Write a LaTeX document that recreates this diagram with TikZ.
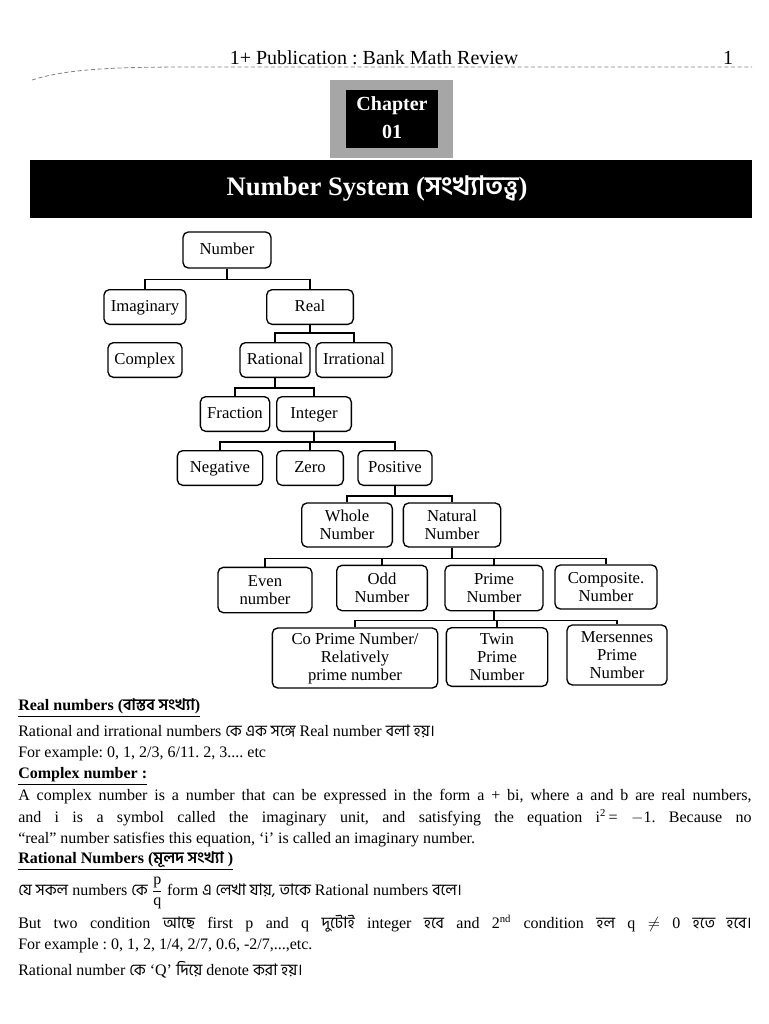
\documentclass[tikz,border=0pt]{standalone}
\usepackage{amsmath}
\usepackage{fontspec}
\setmainfont{Liberation Serif}
\newfontfamily\bangla[Script=Bengali]{Hind Siliguri}
\usetikzlibrary{positioning}

\tikzset{
  nbox/.style={draw, rounded corners=4pt, line width=1pt, align=center, inner sep=2pt, font=\fontsize{12.5}{13.5}\selectfont},
  sbox/.style={nbox, text height=9pt, text depth=2.5pt},
  tline/.style={line width=0.9pt},
  txt/.style={anchor=west, inner sep=0pt, font=\fontsize{12}{13}\selectfont},
}
\newcommand{\fullline}[1]{\hbox to 550pt{#1}}

\begin{document}
\frenchspacing
\begin{tikzpicture}[x=0.75pt, y=-0.75pt]
\useasboundingbox (0,0) rectangle (768,1024);
\fill [white] (0,0) rectangle (768,1024);

% page head
\node (head) at (374,58) {\fontsize{15}{16}\selectfont 1+ Publication : Bank Math Review};
\node (page) at (728,58) {\fontsize{15}{16}\selectfont 1};
\draw [gray, densely dashed, line width=0.6pt] (32,80) .. controls (70,68) and (120,67) .. (200,67) -- (752,67);

% chapter box and title bar
\fill [black!35] (330,80) rectangle (453,158);
\fill [black] (346,90) rectangle (438,148);
\node [white, font=\bfseries\fontsize{15}{21}\selectfont, align=center] (chap) at (392,118) {Chapter\\01};
\fill [black] (30,160) rectangle (752,218);
\node [white, font=\bfseries\fontsize{20}{24}\selectfont] (title) at (377,188) {Number System ({\bangla সংখ্যাতত্ত্ব})};

% tree
\node [sbox, minimum width=66pt, minimum height=27pt] (number) at (227,250) {Number};
\node [sbox, minimum width=61.5pt, minimum height=26pt] (imag) at (145,307) {Imaginary};
\node [sbox, minimum width=65pt, minimum height=26pt] (real) at (310,307) {Real};
\node [sbox, minimum width=55.5pt, minimum height=26pt] (complex) at (145,360) {Complex};
\node [sbox, minimum width=52.5pt, minimum height=26pt] (rational) at (275,360) {Rational};
\node [sbox, minimum width=57pt, minimum height=26pt] (irrational) at (354,360) {Irrational};
\node [sbox, minimum width=52pt, minimum height=26pt] (fraction) at (235,414) {Fraction};
\node [sbox, minimum width=56pt, minimum height=26pt] (integer) at (314,414) {Integer};
\node [sbox, minimum width=64pt, minimum height=26pt] (negative) at (220,468) {Negative};
\node [sbox, minimum width=50pt, minimum height=26pt] (zero) at (310,468) {Zero};
\node [sbox, minimum width=55.5pt, minimum height=26pt] (positive) at (395,468) {Positive};
\node [nbox, minimum width=68pt, minimum height=33pt] (whole) at (347,525) {Whole\\Number};
\node [nbox, minimum width=73pt, minimum height=33pt] (natural) at (452,525) {Natural\\Number};
\node [nbox, minimum width=70.5pt, minimum height=34pt] (even) at (265,590) {Even\\number};
\node [nbox, minimum width=68pt, minimum height=34pt] (odd) at (382,588) {Odd\\Number};
\node [nbox, minimum width=73.5pt, minimum height=34pt] (prime) at (494,588) {Prime\\Number};
\node [nbox, minimum width=76.5pt, minimum height=33pt] (composite) at (606,587) {Composite.\\Number};
\node [nbox, minimum width=124pt, minimum height=45pt] (coprime) at (355,658) {Co Prime Number/\\Relatively\\prime number};
\node [nbox, minimum width=76pt, minimum height=44pt] (twin) at (497,657) {Twin\\Prime\\Number};
\node [nbox, minimum width=75pt, minimum height=45pt] (mersenne) at (617,655) {Mersennes\\Prime\\Number};

\draw [tline] (number.south) -- ++(0,11) -| (imag.north);
\draw [tline] (number.south) -- ++(0,11) -| (real.north);
\draw [tline] (real.south) -- ++(0,8) -| (rational.north);
\draw [tline] (real.south) -- ++(0,8) -| (irrational.north);
\draw [tline] (rational.south) -- ++(0,10) -| (fraction.north);
\draw [tline] (rational.south) -- ++(0,10) -| (integer.north);
\draw [tline] (integer.south) -- ++(0,10) -| (negative.north);
\draw [tline] (integer.south) -- ++(0,10) -| (zero.north);
\draw [tline] (integer.south) -- ++(0,10) -| (positive.north);
\draw [tline] (positive.south) -- ++(0,10) -| (whole.north);
\draw [tline] (positive.south) -- ++(0,10) -| (natural.north);
\draw [tline] (natural.south) -- ++(0,11) -| (even.north);
\draw [tline] (natural.south) -- ++(0,11) -| (odd.north);
\draw [tline] (natural.south) -- ++(0,11) -| (prime.north);
\draw [tline] (natural.south) -- ++(0,11) -| (composite.north);
\draw [tline] (prime.south) -- ++(0,9) -| (coprime.north);
\draw [tline] (prime.south) -- ++(0,9) -| (twin.north);
\draw [tline] (prime.south) -- ++(0,9) -| (mersenne.north);

% notes below the tree
\node [txt] (realhd) at (18,708) {\underline{\textbf{Real numbers ({\bangla বাস্তব সংখ্যা})}}};
\node [txt] (realtx) at (18,731) {Rational and irrational numbers {\bangla কে এক সঙ্গে} Real number {\bangla বলা হয়।}};
\node [txt] (realex) at (18,754) {For example: 0, 1, 2/3, 6/11. 2, 3.... etc};
\node [txt] (cplxhd) at (18,776) {\underline{\textbf{Complex number :}}};
\node [txt] (cplx1) at (18,797) {\fullline{A complex number is a number that can be expressed in the form a + bi, where a and b are real numbers,}};
\node [txt] (cplx2) at (18,818) {\fullline{and i is a symbol called the imaginary unit, and satisfying the equation i\textsuperscript{2}\,= $-$1. Because no}};
\node [txt] (cplx3) at (18,840) {“real” number satisfies this equation, ‘i’ is called an imaginary number.};
\node [txt] (rathd) at (18,861) {\underline{\textbf{Rational Numbers ({\bangla মূলদ সংখ্যা} )}}};
\node [txt] (rat1) at (18,893) {{\bangla যে সকল} numbers {\bangla কে} $\dfrac{\mathrm{p}}{\mathrm{q}}$ form {\bangla এ লেখা যায়,} {\bangla তাকে} Rational numbers {\bangla বলে।}};
\node [txt] (rat2) at (18,924) {\fullline{But two condition {\bangla আছে} first p and q {\bangla দুটোই} integer {\bangla হবে} and 2\textsuperscript{nd} condition {\bangla হল} q $\neq$ 0 {\bangla হতে হবে।}}};
\node [txt] (rat3) at (18,946) {For example : 0, 1, 2, 1/4, 2/7, 0.6, -2/7,...,etc.};
\node [txt] (rat4) at (18,970) {Rational number {\bangla কে} ‘Q’ {\bangla দিয়ে} denote {\bangla করা হয়।}};
\end{tikzpicture}
\end{document}
